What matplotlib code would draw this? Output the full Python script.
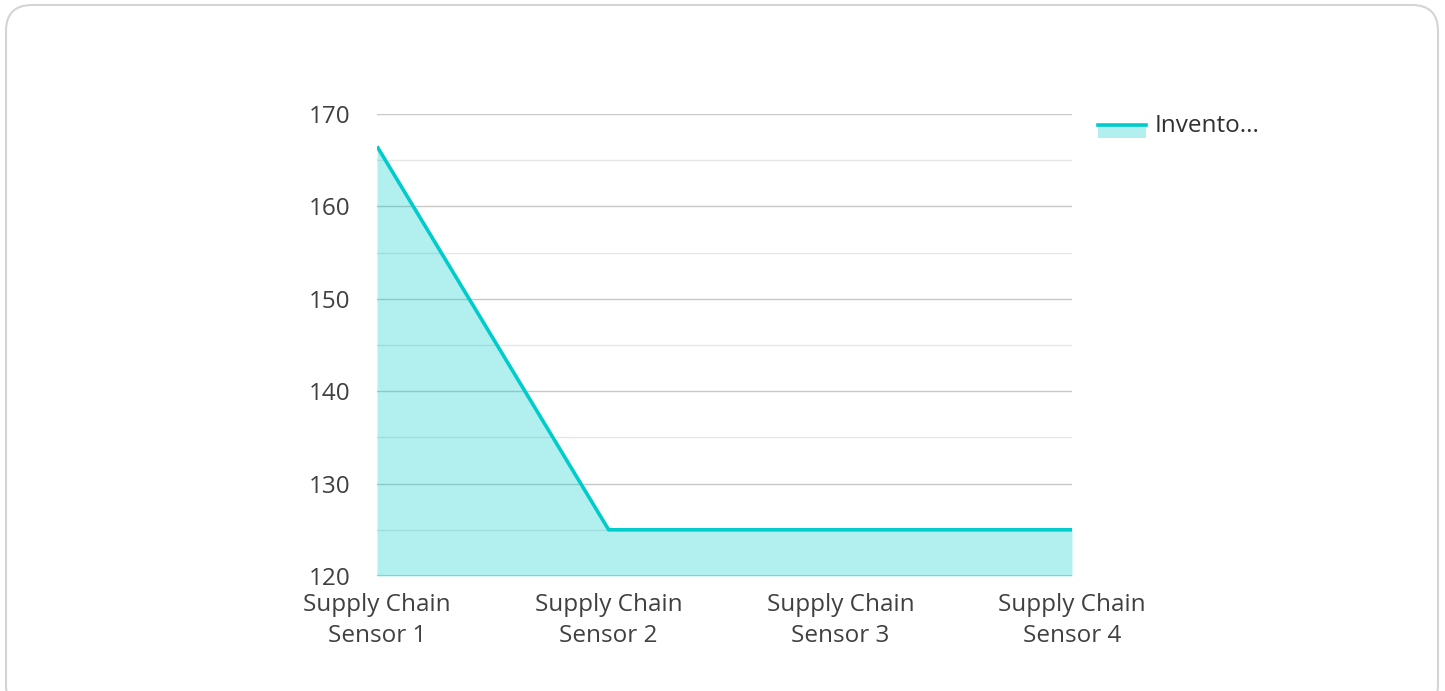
import matplotlib
matplotlib.use("Agg")
import matplotlib.pyplot as plt
from matplotlib.patches import FancyBboxPatch, Rectangle
from matplotlib.lines import Line2D

plt.rcParams['font.family'] = ['Open Sans', 'DejaVu Sans']

categories = ["Supply Chain\nSensor 1", "Supply Chain\nSensor 2",
              "Supply Chain\nSensor 3", "Supply Chain\nSensor 4"]
inventory = [166.5, 125, 125, 125]
series_label = "Invento..."
y_ticks = [120, 130, 140, 150, 160, 170]
y_minor = [125, 135, 145, 155, 165]

W, H = 1445, 691
FS = 17.5
fig = plt.figure(figsize=(W / 100, H / 100), dpi=100)
fig.patch.set_facecolor("white")

# card outline
card = FancyBboxPatch((6 / W, -20 / H), 1432 / W, (H - 5 + 20) / H,
                      boxstyle="round,pad=0,rounding_size=0.018",
                      transform=fig.transFigure, facecolor="white",
                      edgecolor="#d4d4d4", linewidth=1.5, mutation_aspect=W / H,
                      zorder=-5)
fig.patches.append(card)

ax = fig.add_axes([377 / W, 1 - 576 / H, (1072 - 377) / W, (576 - 114) / H])
ax.set_facecolor("none")
ax.set_zorder(2)
x = list(range(len(categories)))

for v in y_minor:
    ax.axhline(v, color="#e6e6e6", lw=1, zorder=1)
for v in y_ticks:
    ax.axhline(v, color="#c8c8c8", lw=1, zorder=1)

line_color = "#00cccc"
ax.fill_between(x, inventory, 120, color=line_color, alpha=0.3, lw=0, zorder=2)
ax.plot(x, inventory, color=line_color, lw=2.6, zorder=3, solid_capstyle="butt")
ax.axhline(120, color="#8ccfcf", lw=2.2, zorder=2.6)

ax.set_xlim(0, len(categories) - 1)
ax.set_ylim(120, 170)
ax.set_yticks(y_ticks)
ax.set_xticks(x)
ax.set_xticklabels(categories, fontsize=FS, color="#404040", linespacing=1.42)
ax.tick_params(axis="y", labelsize=FS, labelcolor="#404040", length=0, pad=19)
ax.tick_params(axis="x", length=0, pad=12)
for s in ax.spines.values():
    s.set_visible(False)

# legend
fig.patches.append(Rectangle((1098 / W, 1 - 138 / H), 48 / W, 13 / H,
                             transform=fig.transFigure, facecolor=line_color,
                             alpha=0.3, edgecolor="none"))
fig.lines.append(Line2D([1098 / W, 1146 / W], [1 - 125 / H, 1 - 125 / H],
                        transform=fig.transFigure, color=line_color, lw=2.6))
fig.text(1155 / W, 1 - 126 / H, series_label, fontsize=FS, color="#303030",
         va="center", ha="left")

fig.savefig("out.png", dpi=100, facecolor="white")
